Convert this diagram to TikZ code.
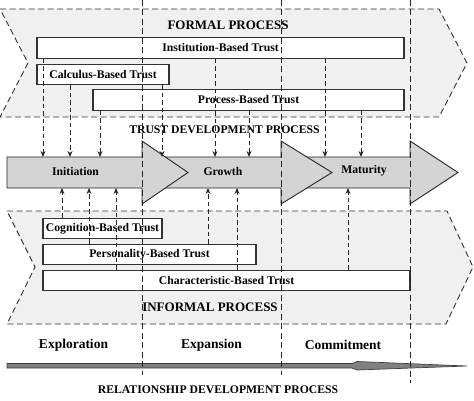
\documentclass[tikz,border=0pt]{standalone}
\usepackage{fontspec}
\setmainfont{Liberation Serif}
\usetikzlibrary{arrows.meta}
\begin{document}
\begin{tikzpicture}[x=1pt,y=-1pt,
  band/.style={draw=black!80, dash pattern=on 6pt off 3.5pt, line width=0.9pt, fill=black!6},
  tbox/.style={draw=black!80, line width=1.1pt, fill=white, minimum height=20.5pt, inner sep=0pt, font=\bfseries\fontsize{11.7}{13}\selectfont},
  tarrow/.style={draw=black!85, line width=0.9pt, fill=black!17},
  conn/.style={draw=black!85, dash pattern=on 4.5pt off 3pt, line width=0.9pt, -{Stealth[length=6pt,width=5pt]}},
  phase/.style={draw=black!85, dash pattern=on 6pt off 3.5pt, line width=1pt},
  lbl/.style={font=\bfseries\fontsize{11.7}{13}\selectfont, inner sep=0pt},
  ttl/.style={font=\bfseries\fontsize{13}{15}\selectfont, inner sep=0pt},
  stage/.style={font=\bfseries\fontsize{13.5}{16}\selectfont, inner sep=0pt},
  relbar/.style={draw=black!75, fill=black!50, line width=0.7pt}
]
\useasboundingbox (0,0) rectangle (474,401);

% bands
\path[band] (0,9) -- (439,9) -- (467,63) -- (439,117) -- (0,117) -- (28,63) -- cycle;
\path[band] (7,211) -- (447,211) -- (473,267) -- (446,324) -- (7,324) -- (35,267) -- cycle;

% titles
\node[ttl] (formal) at (228,25) {FORMAL PROCESS};
\node[lbl] (tdp) at (224.5,130) {TRUST DEVELOPMENT PROCESS};
\node[ttl] (informal) at (210,307) {INFORMAL PROCESS};
\node[lbl] (rdp) at (218,390) {RELATIONSHIP DEVELOPMENT PROCESS};

% formal boxes
\node[tbox, minimum width=367pt] (inst) at (220.5,48) {Institution-Based Trust};
\node[tbox, minimum width=132pt] (calc) at (103,74.5) {Calculus-Based Trust};
\node[tbox, minimum width=311pt] (proc) at (248.5,100) {Process-Based Trust};

% informal boxes
\node[tbox, minimum width=119pt] (cog) at (102.5,228.5) {Cognition-Based Trust};
\node[tbox, minimum width=213pt] (pers) at (149.5,254.5) {Personality-Based Trust};
\node[tbox, minimum width=367pt] (char) at (226.5,280.5) {Characteristic-Based Trust};

% trust development arrows
\path[tarrow] (295,157) -- (410,157) -- (410,141) -- (458,172.5) -- (410,204) -- (410,188) -- (295,188) -- cycle;
\path[tarrow] (150,157) -- (281,157) -- (281,141) -- (332,172.5) -- (281,204) -- (281,188) -- (150,188) -- cycle;
\path[tarrow] (7,157) -- (142,157) -- (142,141) -- (188,172.5) -- (142,204) -- (142,188) -- (7,188) -- cycle;
\coordinate (barT) at (0,157);
\coordinate (barB) at (0,188);
\node[lbl] (init) at (75.5,171) {Initiation};
\node[lbl] (growth) at (223,171) {Growth};
\node[lbl] (mat) at (364,171) {Maturity};

% connectors from formal boxes
\draw[conn] (43,0 |- inst.south) -- (43,0 |- barT);
\draw[conn] (70,0 |- calc.south) -- (70,0 |- barT);
\draw[conn] (100,0 |- proc.south) -- (100,0 |- barT);
\draw[conn] (162,0 |- calc.south) -- (162,0 |- barT);
\draw[conn] (215,0 |- inst.south) -- (215,0 |- barT);
\draw[conn] (249,0 |- proc.south) -- (249,0 |- barT);
\draw[conn] (325,0 |- inst.south) -- (325,0 |- barT);
\draw[conn] (361,0 |- proc.south) -- (361,0 |- barT);

% connectors from informal boxes
\draw[conn] (62,0 |- cog.north) -- (62,0 |- barB);
\draw[conn] (89,0 |- pers.north) -- (89,0 |- barB);
\draw[conn] (116,0 |- char.north) -- (116,0 |- barB);
\draw[conn] (208,0 |- pers.north) -- (208,0 |- barB);
\draw[conn] (237,0 |- char.north) -- (237,0 |- barB);
\draw[conn] (348,0 |- char.north) -- (348,0 |- barB);

% relationship development
\path[relbar] (7,363.5) -- (352,363.5) -- (357,361.5) -- (467,366) -- (357,370) -- (352,368) -- (7,368) -- cycle;
\node[stage] (expl) at (73.5,345) {Exploration};
\node[stage] (expa) at (211.5,345) {Expansion};
\node[stage] (comm) at (343,345) {Commitment};

% phase separators
\draw[phase] (142,0) -- (142,375);
\draw[phase] (281,0) -- (281,375);
\draw[phase] (410,0) -- (410,383);
\end{tikzpicture}
\end{document}
